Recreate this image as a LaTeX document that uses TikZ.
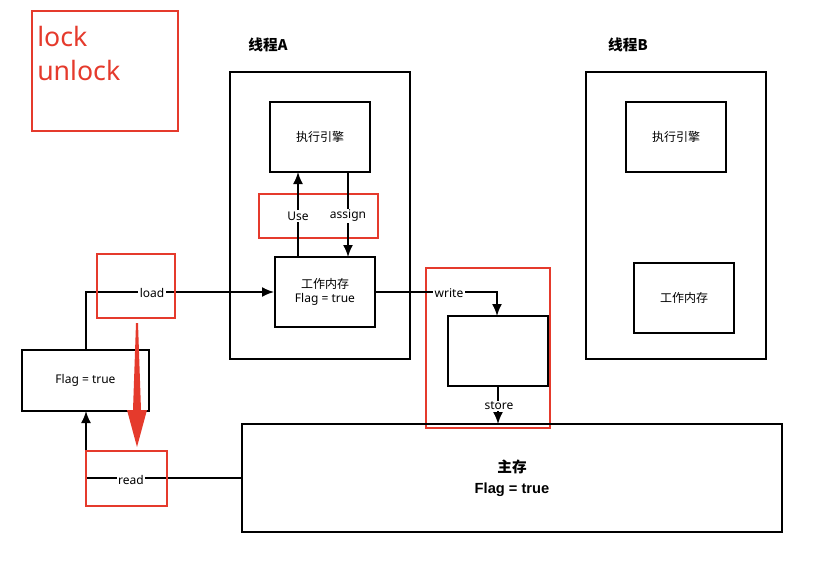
\documentclass[tikz,border=0pt]{standalone}
\usepackage{fontspec}
\setmainfont{Noto Sans}
\newfontfamily\cjk{Noto Sans CJK SC}
\newfontfamily\ffb{Liberation Sans}
\usetikzlibrary{arrows.meta}
\definecolor{rd}{HTML}{E53A2C}
\begin{document}
\begin{tikzpicture}[x=0.75pt,y=-0.75pt,
  box/.style={draw=black,line width=1.5pt},
  rbox/.style={draw=rd,line width=1.8pt},
  ln/.style={line width=1.3pt},
  arr/.style={ln,-{Latex[length=9pt,width=7.5pt]}},
  lbl/.style={fill=white,inner sep=1pt,font=\fontsize{9}{10}\selectfont},
  txt/.style={font=\fontsize{9}{11}\selectfont,align=center}]
\useasboundingbox (0,0) rectangle (813,567);
% lock unlock
\draw[rbox] (32,11) rectangle (178,131);
\node[anchor=west,text=rd,font=\fontsize{20}{22}\selectfont,inner sep=0] (lk) at (37,36) {lock};
\node[anchor=west,text=rd,font=\fontsize{20}{22}\selectfont,inner sep=0] (ulk) at (37,70) {unlock};
% thread A
\node[font=\cjk\bfseries\fontsize{11}{12}\selectfont] (tA) at (268,45) {线程A};
\draw[box] (230,72) rectangle (410,359);
\node[box,minimum width=75pt,minimum height=52.5pt,txt] (eA) at (320,137) {\cjk 执行引擎};
\node[box,minimum width=75pt,minimum height=52.5pt,txt] (wA) at (325,292) {{\cjk 工作内存}\\Flag = true};
\draw[rbox] (259,194) rectangle (378,238);
% thread B
\node[font=\cjk\bfseries\fontsize{11}{12}\selectfont] (tB) at (628,45) {线程B};
\draw[box] (586,72) rectangle (766,359);
\node[box,minimum width=75pt,minimum height=52.5pt,txt] (eB) at (676,137) {\cjk 执行引擎};
\node[box,minimum width=75pt,minimum height=52.5pt,txt] (wB) at (684,298) {\cjk 工作内存};
% left flag
\node[box,minimum width=95pt,minimum height=45.75pt,txt] (fl) at (85.5,380.5) {Flag = true};
% middle
\node[box,minimum width=75pt,minimum height=52.5pt] (mid) at (498,351) {};
\draw[rbox] (426,268) rectangle (550,428);
% main
\node[box,minimum width=405pt,minimum height=81pt,align=center,font=\fontsize{11}{15.5}\selectfont] (main) at (512,478) {{\cjk\bfseries 主存}\\{\ffb\bfseries Flag = true}};
% use/assign
\draw[arr] (298,257) -- (298,172);
\node[lbl] (use) at (298,216) {Use};
\draw[arr] (348,172) -- (348,257);
\node[lbl] (asg) at (348,216) {assign};
% load
\draw[arr] (86,350) |- (wA.west);
\node[lbl] (ld) at (152,293) {load};
\draw[rbox] (97,254) rectangle (175,318);
% read
\draw[arr] (main.west) -| (86,411);
\node[lbl] (rd) at (131,480) {read};
\draw[rbox] (86,451) rectangle (167,506);
% write / store
\coordinate (wc) at (497,316);
\draw[arr] (wA.east) -| (wc);
\node[lbl] (wr) at (449,293) {write};
\draw[arr] (mid.south) -- (498,424);
\node[lbl] (st) at (499,406) {store};
% big red arrow
\fill[rd] (136,323) -- (138,323) -- (141,410) -- (147,410) -- (137,447) -- (127,410) -- (133,410) -- cycle;
\end{tikzpicture}
\end{document}
